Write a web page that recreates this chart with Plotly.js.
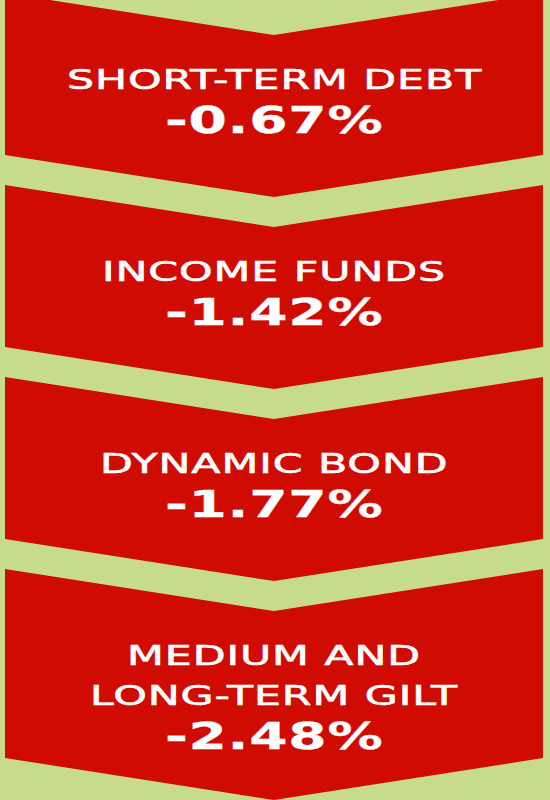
<!DOCTYPE html>
<html>
<head>
<meta charset="utf-8">
<script src="https://cdn.plot.ly/plotly-3.0.1.min.js"></script>
<style>
  html, body { margin: 0; padding: 0; background: #c7dc8e; }
  /* the original uses an extended typeface, so widen the glyphs */
  .annotation-text {
    transform-box: fill-box;
    transform-origin: center;
    transform: scaleX(1.58);
    letter-spacing: 0.6px;
    stroke: #ffffff;
    stroke-width: 0.6px;
  }
  .annotation-text[style*="38px"] {
    transform: scaleX(1.45);
    letter-spacing: 0.5px;
    stroke-width: 0.3px;
  }
</style>
</head>
<body>
<div id="myDiv" style="width:550px;height:800px;"></div>
<script>
// fund categories, top to bottom (<br> marks a line break)
var categories = ['SHORT-TERM DEBT', 'INCOME FUNDS', 'DYNAMIC BOND', 'MEDIUM AND<br>LONG-TERM GILT'];
// category returns, %
var returns = [-0.67, -1.42, -1.77, -2.48];

var red = '#d00b02';
var green = '#c6dc8c';

// chevron geometry (px, y grows downwards)
var firstTop = -7;
var gap = 30;
var baseHeight = 162;
var extraLine = 27;
var notch = 42;
var xLeft = 5, xRight = 543, xMid = 274;

var data = [];
var annotations = [];
var rowTop = firstTop;

for (let i = 0; i < categories.length; i++) {
    let lines = categories[i].split('<br>');
    let h = baseHeight + extraLine * (lines.length - 1);
    let rowBottom = rowTop + h;

    data.push({
        x: [xLeft, xMid, xRight, xRight, xMid, xLeft, xLeft],
        y: [rowTop, rowTop + notch, rowTop, rowBottom, rowBottom + notch, rowBottom, rowTop],
        mode: 'lines',
        fill: 'toself',
        fillcolor: red,
        line: {width: 0, color: red},
        hoverinfo: 'skip',
        type: 'scatter'
    });

    let y = rowTop + 86;
    lines.forEach(function (txt, j) {
        annotations.push({
            x: xMid, y: y + 40 * j, xref: 'x', yref: 'y',
            text: txt, showarrow: false,
            xanchor: 'center', yanchor: 'middle',
            font: {family: 'DejaVu Sans', size: 27, color: '#ffffff'}
        });
    });
    annotations.push({
        x: xMid, y: y + 40 * (lines.length - 1) + 41, xref: 'x', yref: 'y',
        text: returns[i].toFixed(2) + '%', showarrow: false,
        xanchor: 'center', yanchor: 'middle',
        font: {family: 'DejaVu Sans', size: 38, color: '#ffffff', weight: 'bold'}
    });

    rowTop = rowBottom + gap;
}

var layout = {
    width: 550,
    height: 800,
    margin: {l: 0, r: 0, t: 0, b: 0},
    paper_bgcolor: green,
    plot_bgcolor: green,
    showlegend: false,
    xaxis: {range: [0, 550], visible: false, fixedrange: true},
    yaxis: {range: [800, 0], visible: false, fixedrange: true},
    annotations: annotations
};
var config = {
    displayModeBar: false,
    responsive: false,
    staticPlot: true
};

Plotly.newPlot('myDiv', data, layout, config);
</script>
</body>
</html>
